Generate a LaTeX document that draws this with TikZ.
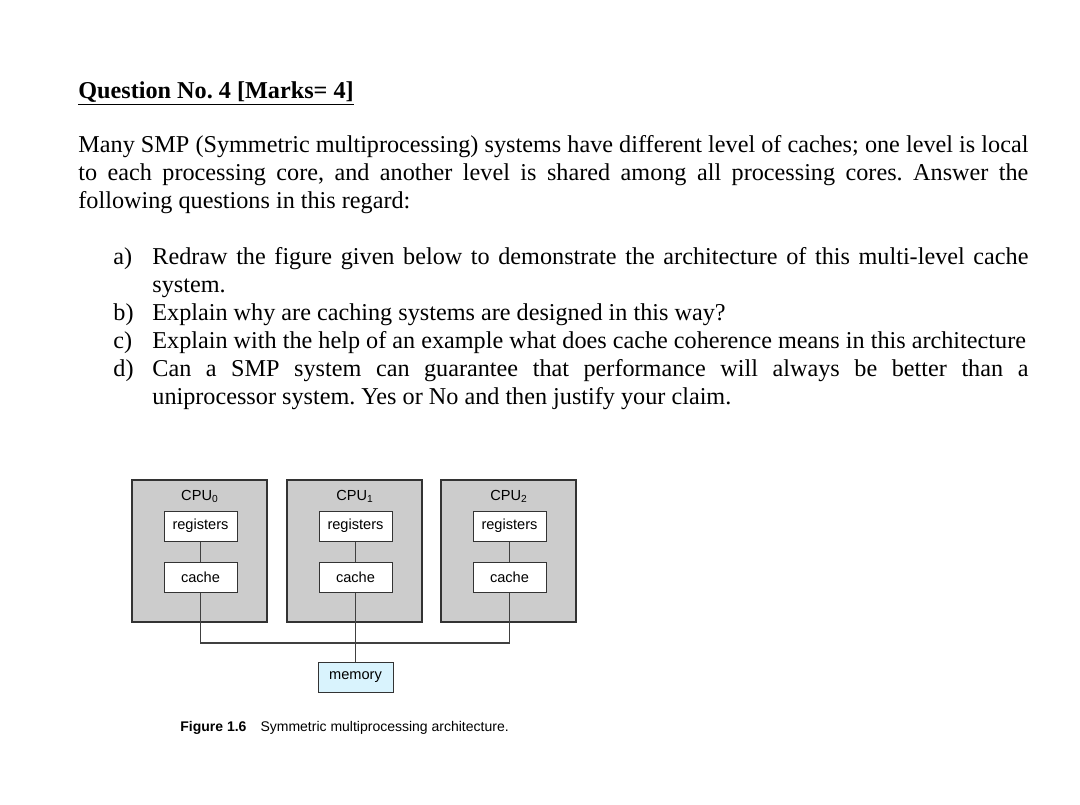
\documentclass[tikz,border=0pt]{standalone}
\usepackage{fontspec}
\setmainfont{Liberation Serif}
\newfontfamily\figsans{Liberation Sans}
\newcommand\nohy{\hyphenpenalty=10000 \exhyphenpenalty=10000 \frenchspacing\relax}
\begin{document}
\begin{tikzpicture}[x=0.5pt,y=-0.5pt,
  txt/.style={anchor=north west,inner sep=0pt,align=justify,font=\fontsize{12.1}{14}\selectfont},
  lbl/.style={anchor=north west,inner sep=0pt,font=\fontsize{12.1}{14}\selectfont},
  cpu/.style={draw=black!80,fill=black!20,line width=0.6pt},
  inner/.style={draw=black!80,fill=white,line width=0.5pt,minimum width=36.5pt,minimum height=15pt,inner sep=0pt,font=\figsans\fontsize{7.3}{8}\selectfont},
  wire/.style={draw=black!75,line width=0.6pt}]
\useasboundingbox (0,0) rectangle (1080,804);
\node[lbl,anchor=base west] (q) at (78,98) {\textbf{\underline{Question No.\ 4 [Marks= 4]}}};
\node[txt,anchor=north west,text width=475pt] (p) at (78,135) {\nohy Many SMP (Symmetric multiprocessing) systems have different level of caches; one level is local\linebreak to each processing core, and another level is shared among all processing cores. Answer the\linebreak following questions in this regard:};
\node[lbl] (la) at (113,247) {a)};
\node[txt,text width=438pt] (ta) at (152,247) {\nohy Redraw the figure given below to demonstrate the architecture of this multi-level cache system.};
\node[lbl] (lb) at (113,303) {b)};
\node[txt,text width=438pt] (tb) at (152,303) {\nohy Explain why are caching systems are designed in this way?};
\node[lbl] (lc) at (113,331) {c)};
\node[txt,text width=438pt] (tc) at (152,331) {\nohy Explain with the help of an example what does cache coherence means in this architecture};
\node[lbl] (ld) at (113,359) {d)};
\node[txt,text width=438pt] (td) at (152,359) {\nohy Can a SMP system can guarantee that performance will always be better than a\linebreak uniprocessor system. Yes or No and then justify your claim.};
\foreach \i/\x in {0/132,1/287,2/441}{
  \draw[cpu] (\x,480) rectangle (\x+135,622);
  \node[font=\figsans\fontsize{7.3}{8}\selectfont,inner sep=0pt,anchor=base] (c\i) at (\x+68,500) {CPU\textsubscript{\i}};
  \node[inner] (r\i) at (\x+68.5,526) {registers};
  \node[inner] (k\i) at (\x+68.5,577) {cache};
  \path[wire] (r\i) -- (k\i);
}
\node[inner,fill=cyan!15,minimum width=37.5pt] (m) at (355.5,677) {memory};
\coordinate (b0) at (k0.south |- 0,643);
\coordinate (b2) at (k2.south |- 0,643);
\path[wire] (k0.south) -- (b0) -- (b2) -- (k2.south);
\path[wire] (k1.south) -- (m.north);
\node[anchor=base west,inner sep=0pt,font=\figsans\fontsize{7}{8}\selectfont] (cap) at (180,731) {\textbf{Figure 1.6}\quad Symmetric multiprocessing architecture.};
\end{tikzpicture}
\end{document}
